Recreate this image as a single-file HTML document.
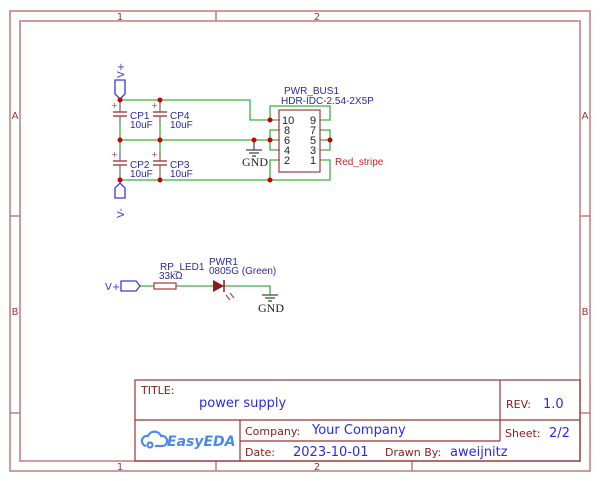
<!DOCTYPE html>
<html><head><meta charset="utf-8"><style>
html,body{margin:0;padding:0;background:#fff}
svg{display:block}
text{font-family:"DejaVu Sans","Liberation Sans",sans-serif}
.l{font-family:"Liberation Sans",sans-serif}
</style></head><body>
<svg width="600" height="481" viewBox="0 0 600 481" xmlns="http://www.w3.org/2000/svg">
<g fill="none" stroke="#c07a7a" stroke-width="1.5">
<rect x="10" y="11" width="580" height="460"/>
<rect x="20" y="21" width="560" height="440"/>
<line x1="216" y1="11" x2="216" y2="21"/>
<line x1="216" y1="461" x2="216" y2="471"/>
<line x1="412" y1="461" x2="412" y2="471"/>
<line x1="10" y1="216" x2="20" y2="216"/>
<line x1="580" y1="216" x2="590" y2="216"/>
<line x1="10" y1="413" x2="20" y2="413"/>
<line x1="580" y1="413" x2="590" y2="413"/>
</g>
<g fill="#993333" font-size="10" text-anchor="middle">
<text x="120" y="20">1</text><text x="317" y="20">2</text>
<text x="120" y="470">1</text><text x="317" y="470">2</text>
<text x="15" y="119">A</text><text x="585" y="119">A</text>
<text x="15" y="315">B</text><text x="585" y="315">B</text>
</g>
<g fill="none" stroke="#993333" stroke-width="1.2">
<rect x="135" y="380" width="445" height="81"/>
<line x1="135" y1="420" x2="580" y2="420"/>
<line x1="240" y1="420" x2="240" y2="461"/>
<line x1="240" y1="441" x2="500" y2="441"/>
<line x1="500" y1="380" x2="500" y2="441"/>
</g>
<g font-size="11" fill="#8b1a1a">
<text x="141" y="394">TITLE:</text>
<text x="506" y="408">REV:</text>
<text x="245" y="435">Company:</text>
<text x="505" y="437">Sheet:</text>
<text x="245" y="456">Date:</text>
<text x="385" y="456">Drawn By:</text>
</g>
<g font-size="13" fill="#2a2aee">
<text x="199" y="407">power supply</text>
<text x="543" y="408">1.0</text>
<text x="312" y="434">Your Company</text>
<text x="549" y="437">2/2</text>
<text x="293" y="456">2023-10-01</text>
<text x="450" y="456">aweijnitz</text>
</g>
<g fill="none" stroke="#4a8ae8" stroke-width="2.2">
<path d="M146 446 a5 5 0 0 1 2-10 a7 7 0 0 1 13 0 a5 5 0 0 1 2 10 h-8"/>
<circle cx="150" cy="445" r="2.5"/>
</g>
<text x="167" y="446" font-size="14" font-weight="bold" font-style="italic" fill="#4a8ae8">EasyEDA</text>

<g fill="none" stroke="#3cb043" stroke-width="1.3">
<path d="M120 100 H250 V120 H280"/>
<path d="M120 140 H280"/>
<path d="M120 180 H330 V160 H320"/>
<path d="M270 120 V106 H330 V120 H320"/>
<path d="M280 130 H270 V150 H280"/>
<path d="M320 130 H330 V150 H320"/>
<path d="M320 140 H330"/>
<path d="M280 160 H270 V180"/>
<path d="M120 124 V152 M160 124 V152"/>
<path d="M140 286 H154 M176 286 H213 M224 286 H270 V295"/>
</g>
<g stroke="#888" stroke-width="1.5">
<path d="M120 116 V124 M160 116 V124 M120 100 V112 M160 100 V112 M120 152 V161 M120 165 V180 M160 152 V161 M160 165 V180"/>
</g>
<g stroke="#a84848" stroke-width="1.5">
<path d="M113 112 H127 M113 116 H127 M153 112 H167 M153 116 H167"/>
<path d="M113 161 H127 M113 165 H127 M153 161 H167 M153 165 H167"/>
</g>
<g fill="#a84848" font-size="8"><text x="111" y="108">+</text><text x="151" y="108">+</text><text x="111" y="157">+</text><text x="151" y="157">+</text></g>
<g fill="#2a2a9a" font-size="10" class="l">
<text class="l" x="130" y="119">CP1</text><text class="l" x="130" y="128">10uF</text>
<text class="l" x="170" y="119">CP4</text><text class="l" x="170" y="128">10uF</text>
<text class="l" x="130" y="168">CP2</text><text class="l" x="130" y="177">10uF</text>
<text class="l" x="170" y="168">CP3</text><text class="l" x="170" y="177">10uF</text>
<text class="l" x="284" y="94">PWR_BUS1</text>
<text class="l" x="281" y="104">HDR-IDC-2.54-2X5P</text>
<text class="l" x="160" y="270">RP_LED1</text><text class="l" x="159" y="279">33kΩ</text>
<text class="l" x="209" y="265">PWR1</text><text class="l" x="209" y="274">0805G (Green)</text>
</g>
<g fill="none" stroke="#3a3ae0" stroke-width="1.3">
<path d="M115 80 H125 V94 L120 99 L115 94 Z"/>
<path d="M115 198 H125 V188 L120 183 L115 188 Z"/>
<path d="M121 281 H136 L140 286 L136 291 H121 Z"/>
</g>
<g fill="#3a3ae0" font-size="10">
<text transform="translate(124,78) rotate(-90)">V+</text>
<text transform="translate(124,218) rotate(-90)">V-</text>
<text x="105" y="290">V+</text>
</g>
<rect x="279" y="110" width="41" height="62" fill="none" stroke="#a84848" stroke-width="1.3"/>
<g fill="#222" font-size="11" class="l">
<text class="l" x="282" y="124">10</text><text class="l" x="284" y="134">8</text><text class="l" x="284" y="144">6</text><text class="l" x="284" y="154">4</text><text class="l" x="284" y="164">2</text>
<text class="l" x="310" y="124">9</text><text class="l" x="310" y="134">7</text><text class="l" x="310" y="144">5</text><text class="l" x="310" y="154">3</text><text class="l" x="310" y="164">1</text>
</g>
<text class="l" x="335" y="165" font-size="10" fill="#cc2222">Red_stripe</text>
<g stroke="#444" stroke-width="1.2">
<path d="M254 140 V150 M246 150 H262 M249 153 H259 M252 156 H256"/>
<path d="M262 295 H278 M265 298 H275 M268 301 H272"/>
</g>
<g font-size="12" fill="#222">
<text x="242" y="166" style="font-family:'Liberation Serif',serif">GND</text>
<text x="258" y="312" style="font-family:'Liberation Serif',serif">GND</text>
</g>
<rect x="154" y="283" width="22" height="6" fill="none" stroke="#a84848" stroke-width="1.3"/>
<path d="M213 280 L224 286 L213 292 Z" fill="#8b1a1a"/>
<path d="M224 280 V292" stroke="#8b1a1a" stroke-width="1.5"/>
<path d="M226 295 L230 300 M230 293 L234 298" stroke="#a84848" stroke-width="1.2"/>
<g fill="#cc0000">
<circle cx="120" cy="100" r="2.5"/><circle cx="160" cy="100" r="2.5"/>
<circle cx="120" cy="140" r="2.5"/><circle cx="160" cy="140" r="2.5"/>
<circle cx="120" cy="180" r="2.5"/><circle cx="160" cy="180" r="2.5"/>
<circle cx="270" cy="120" r="2.5"/><circle cx="254" cy="140" r="2.5"/><circle cx="270" cy="140" r="2.5"/>
<circle cx="330" cy="140" r="2.5"/><circle cx="270" cy="180" r="2.5"/>
</g>
</svg>
</body></html>
